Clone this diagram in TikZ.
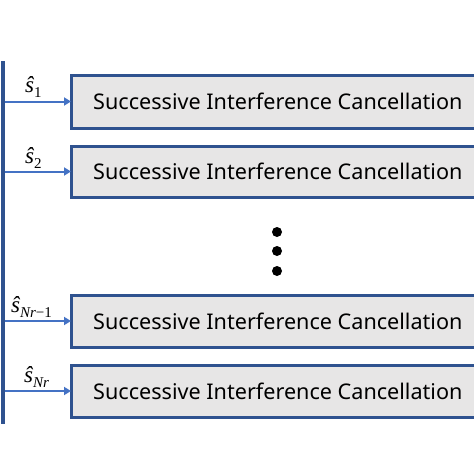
\documentclass[tikz,border=0pt]{standalone}
\usepackage{fontspec}
\setmainfont{Noto Sans}
\newfontfamily\mathlike{Liberation Serif}
\usetikzlibrary{arrows.meta}
\definecolor{boxline}{RGB}{47,82,143}
\definecolor{arrowc}{RGB}{68,114,196}
\definecolor{boxfill}{RGB}{231,230,230}
\newcommand{\shat}[1]{{\mathlike\itshape ŝ}\raisebox{-5pt}{\fontsize{15}{16}\selectfont\mathlike #1}}
\tikzset{
  sicbox/.style={draw=boxline, line width=3pt, fill=boxfill},
  sictext/.style={anchor=west, inner sep=0pt, font=\fontsize{21.6}{26}\selectfont},
  feed/.style={draw=arrowc, line width=2pt, -{Triangle[length=7pt,width=8pt]}},
  lab/.style={anchor=base west, inner sep=0pt, font=\fontsize{23}{26}\selectfont},
  dotc/.style={circle, fill=black, inner sep=0pt, minimum size=10pt}
}
\begin{document}
\begin{tikzpicture}[x=1pt,y=-1pt]
\useasboundingbox (0,0) rectangle (474,474);
\clip (0,0) rectangle (474,474);
\draw[boxline, line width=4pt] (3,61) coordinate (bt) -- (3,424) coordinate (bb);
% boxes
\foreach \n/\t/\b in {1/75/128, 2/146/197, 3/295/347, 4/365/417} {
  \draw[sicbox] (71,\t) rectangle (482,\b);
  \coordinate (in\n) at (71,{(\t+\b)/2});
  \coordinate (out\n) at (5,{(\t+\b)/2});
  \node[sictext] (t\n) at (93,{(\t+\b)/2}) {Successive Interference Cancellation};
  \draw[feed] (out\n) -- (in\n);
}
\node[lab] (l1) at (25,92) {\shat{1}};
\node[lab] (l2) at (25,163) {\shat{2}};
\node[lab] (l3) at (11,312) {\shat{{\itshape Nr}−1}};
\node[lab] (l4) at (24,382) {\shat{\itshape Nr}};
\node[dotc] (d1) at (277,232) {};
\node[dotc] (d2) at (277,251) {};
\node[dotc] (d3) at (277,271) {};
\end{tikzpicture}
\end{document}
